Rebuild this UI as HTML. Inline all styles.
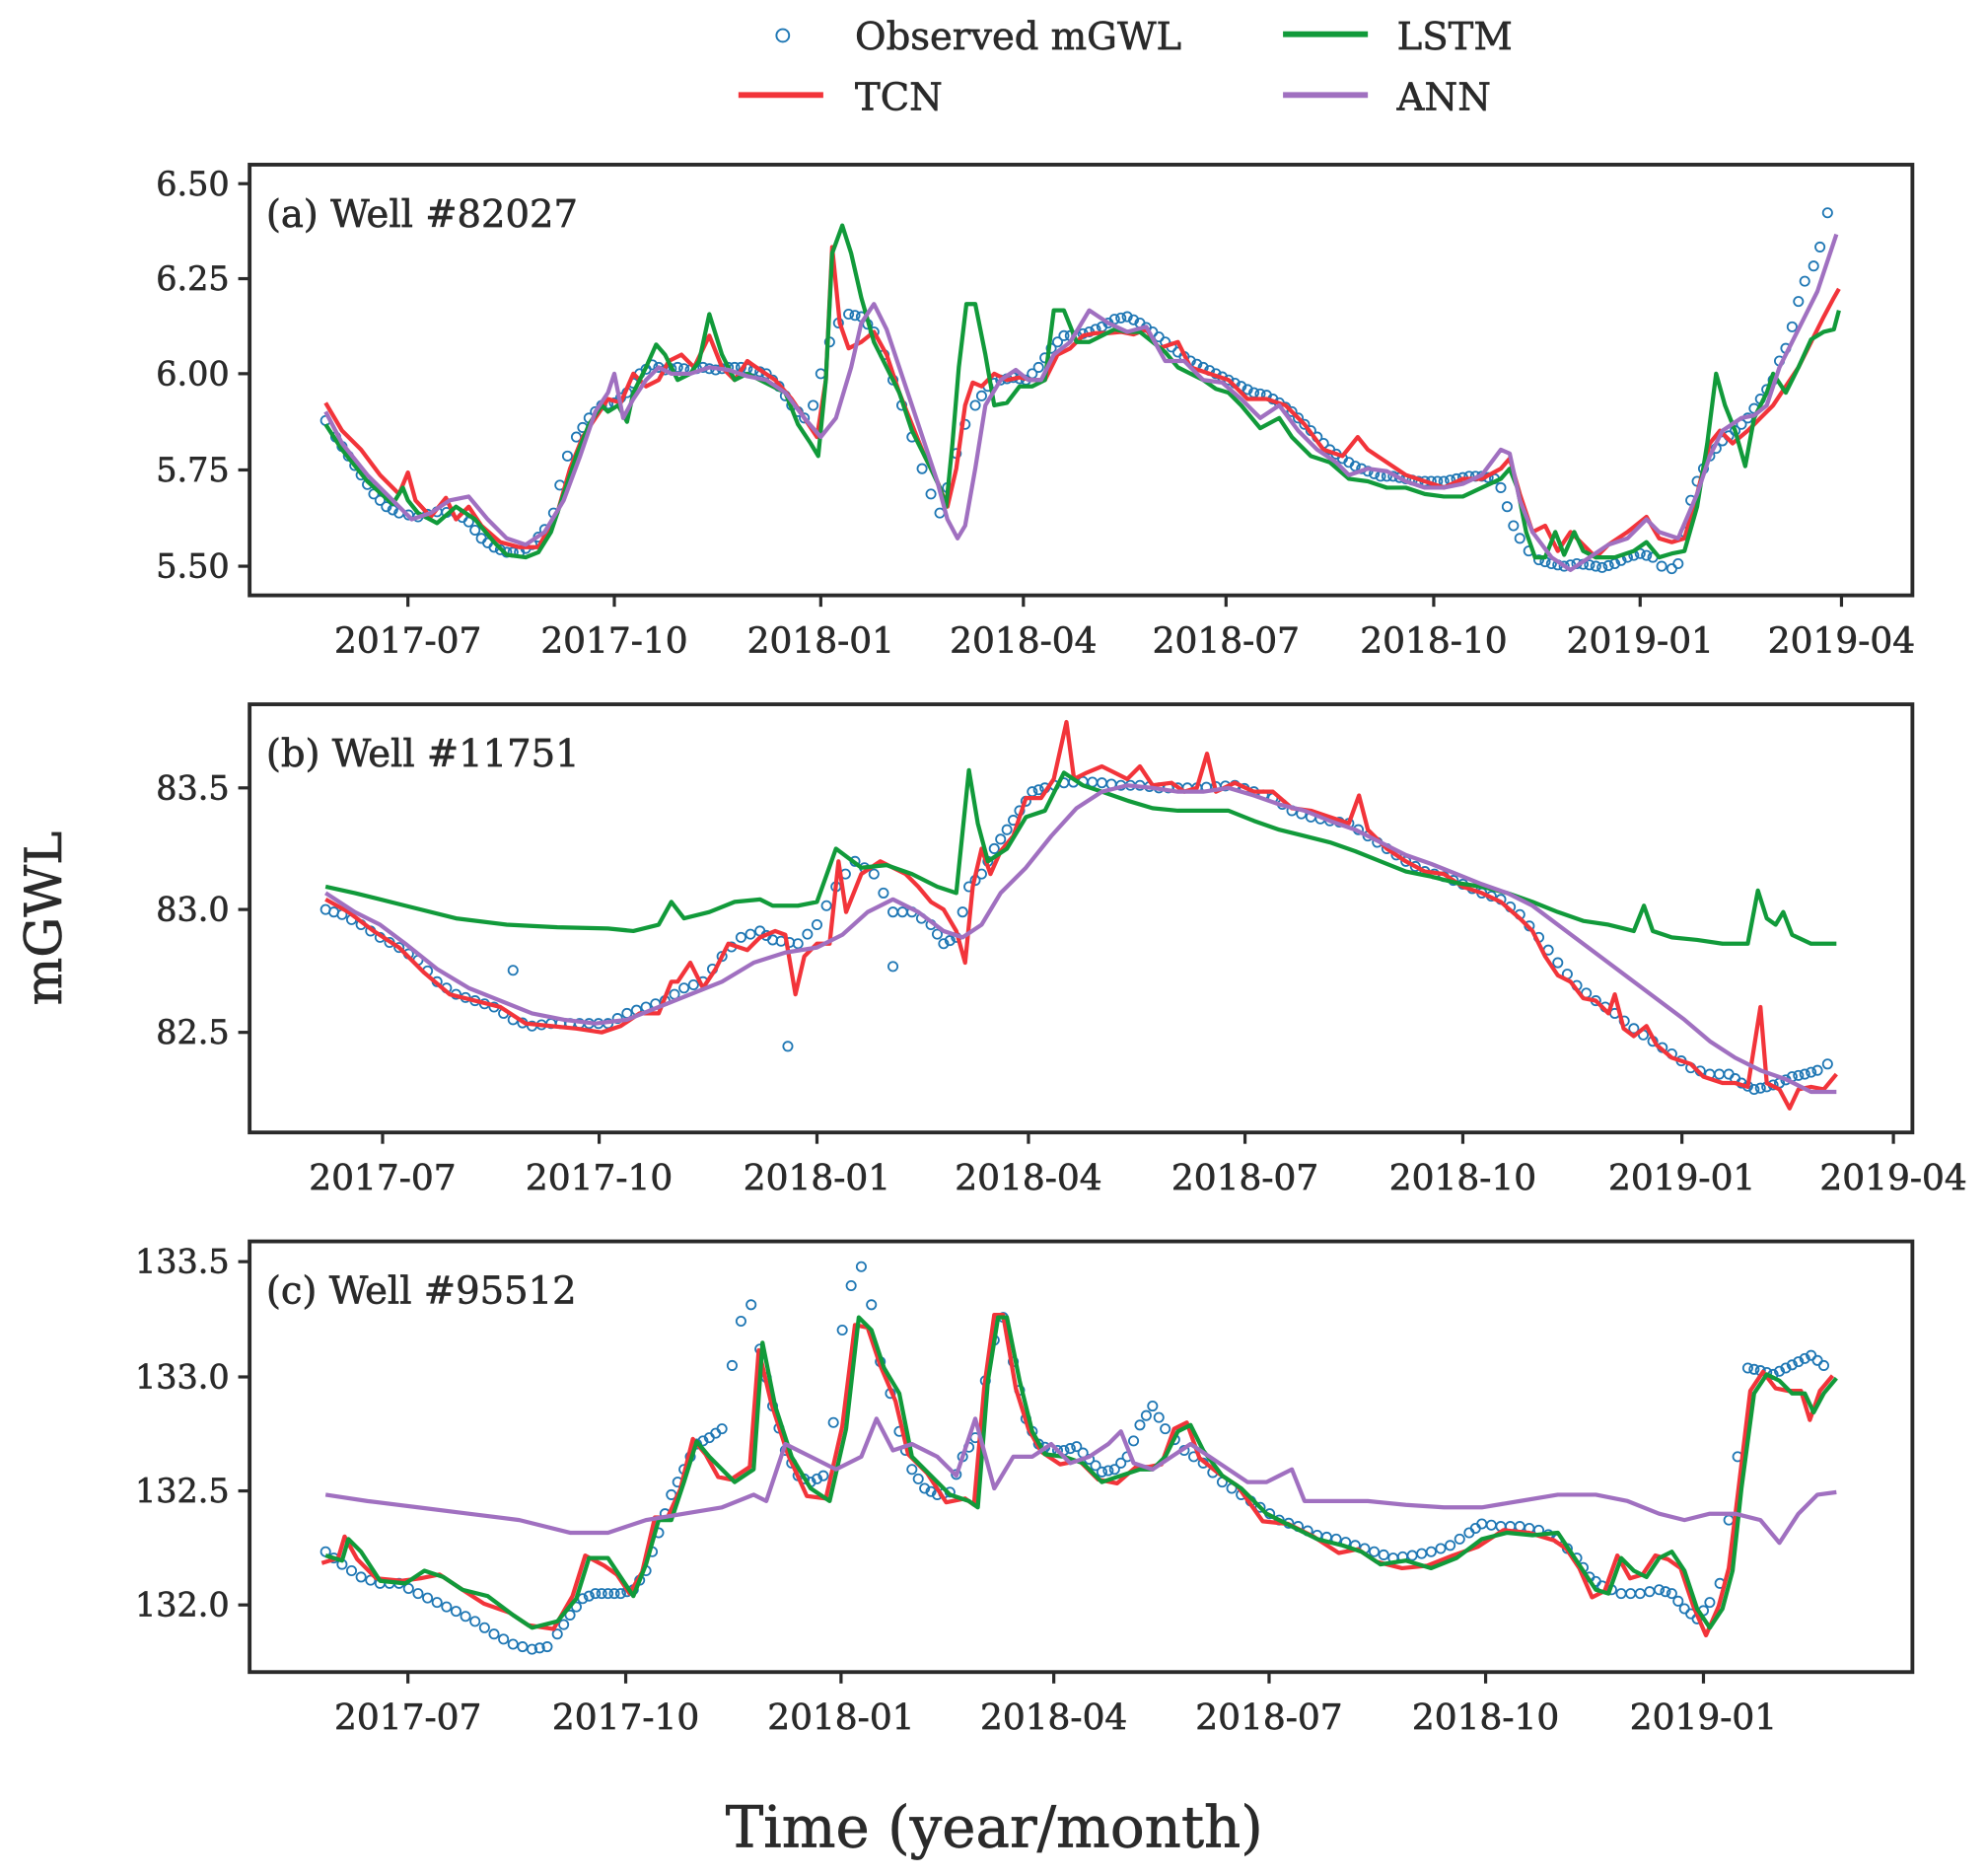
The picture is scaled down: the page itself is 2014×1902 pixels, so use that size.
<!DOCTYPE html>
<html><head><meta charset="utf-8"><style>
html,body{margin:0;padding:0;background:#fff}
svg{display:block}
text{font-family:"DejaVu Serif","Liberation Serif",serif;fill:#2a2a2a;stroke:#2a2a2a;stroke-width:0.5}
</style></head><body>
<svg id="s" width="2014" height="1902" viewBox="0 0 1568 1481" xmlns="http://www.w3.org/2000/svg">
<defs>
<clipPath id="ca"><rect x="197" y="130" width="1313" height="340"/></clipPath>
<clipPath id="cb"><rect x="197" y="556" width="1313" height="338"/></clipPath>
<clipPath id="cc"><rect x="197" y="980" width="1313" height="340"/></clipPath>
</defs>
<!-- legend -->
<circle cx="618" cy="28" r="5" fill="none" stroke="#1f77b4" stroke-width="1.5"/>
<text x="675" y="39" font-size="30">Observed mGWL</text>
<line x1="1013" y1="27" x2="1080" y2="27" stroke="#119a3a" stroke-width="4.5"/>
<text x="1103" y="39" font-size="30">LSTM</text>
<line x1="583" y1="75" x2="650" y2="75" stroke="#f2343a" stroke-width="4.5"/>
<text x="675" y="87" font-size="30">TCN</text>
<line x1="1013" y1="75" x2="1080" y2="75" stroke="#a070c0" stroke-width="4.5"/>
<text x="1103" y="87" font-size="30">ANN</text>
<text x="48" y="725" font-size="40" text-anchor="middle" transform="rotate(-90 48 725)">mGWL</text>
<text x="785" y="1458" font-size="45" text-anchor="middle">Time (year/month)</text>
<g id="g"></g>
</svg>
<script>
const NS="http://www.w3.org/2000/svg",G=document.getElementById('g');
function el(t,a,p){const e=document.createElementNS(NS,t);for(const k in a)e.setAttribute(k,a[k]);(p||G).appendChild(e);return e;}
function P(s){const n=s.match(/-?\d+(\.\d+)?/g).map(Number);const r=[];for(let i=0;i<n.length;i+=2)r.push([n[i],n[i+1]]);return r;}
function line(pts,col,clip){el('polyline',{points:pts.map(p=>p.join(',')).join(' '),fill:'none',stroke:col,'stroke-width':3.3,'stroke-linejoin':'round','clip-path':'url(#'+clip+')'});}
function obs(pts,clip,extra){const out=[];for(let i=0;i<pts.length-1;i++){const[a,b]=[pts[i],pts[i+1]];const n=Math.max(1,Math.round((b[0]-a[0])/6.5));for(let k=0;k<n;k++){const t=k/n;out.push([a[0]+(b[0]-a[0])*t,a[1]+(b[1]-a[1])*t]);}}out.push(pts[pts.length-1]);(extra||[]).forEach(p=>out.push(p));out.forEach(p=>el('circle',{cx:p[0],cy:p[1],r:3.6,fill:'none',stroke:'#1f77b4','stroke-width':1.4,'clip-path':'url(#'+clip+')'}));}
function axes(y0,y1,yt,xt,lab){el('rect',{x:197,y:y0,width:1313,height:y1-y0,fill:'none',stroke:'#2a2a2a','stroke-width':3});
yt.forEach(([v,y])=>{el('line',{x1:188,y1:y,x2:197,y2:y,stroke:'#2a2a2a','stroke-width':2.5});const t=el('text',{x:181,y:y+9,'font-size':26,'text-anchor':'end'});t.textContent=v;});
xt.forEach(([v,x])=>{el('line',{x1:x,y1:y1,x2:x,y2:y1+9,stroke:'#2a2a2a','stroke-width':2.5});const t=el('text',{x:x,y:y1+45,'font-size':28,'text-anchor':'middle'});t.textContent=v;});
const t=el('text',{x:210,y:y0+49,'font-size':30});t.textContent=lab;}
// panel a
axes(130,470,[['6.50',145],['6.25',220],['6.00',295],['5.75',371],['5.50',447]],[['2017-07',322],['2017-10',485],['2018-01',648],['2018-04',808],['2018-07',968],['2018-10',1132],['2019-01',1295],['2019-04',1454]],'(a) Well #82027');
obs(P("(257,332),(265,345),(275,360),(285,375),(295,390),(305,400),(315,405),(330,408),(345,404),(360,405),(370,412),(380,425),(390,432),(400,436),(410,436),(420,430),(430,418),(437,405),(442,383),(448,360),(455,345),(465,330),(475,320),(485,318),(495,310),(505,295),(515,288),(525,292),(535,290),(545,292),(555,290),(565,292),(575,290),(585,290),(595,292),(605,295),(615,305),(625,320),(635,330),(642,320),(648,295),(655,270),(662,255),(670,248),(680,250),(690,262),(698,280),(705,300),(712,320),(720,345),(728,370),(735,390),(742,405),(748,385),(755,358),(762,335),(770,320),(780,305),(790,300),(800,298),(810,300),(820,290),(830,275),(840,265),(850,265),(860,262),(870,258),(880,252),(890,250),(900,255),(910,262),(920,270),(930,278),(940,285),(950,290),(960,295),(970,300),(980,305),(990,310),(1000,312),(1010,318),(1020,325),(1030,335),(1040,345),(1050,355),(1060,362),(1070,368),(1080,372),(1090,376),(1100,376),(1110,378),(1120,380),(1130,380),(1140,380),(1150,378),(1160,376),(1170,376),(1180,378),(1185,385),(1190,400),(1195,415),(1200,425),(1207,435),(1215,442),(1225,445),(1235,447),(1245,445),(1255,446),(1265,448),(1275,445),(1285,440),(1295,437),(1305,440),(1312,447),(1320,449),(1325,445),(1330,420),(1335,395),(1340,380),(1350,360),(1360,348),(1370,340),(1380,330),(1390,315),(1400,300),(1405,285),(1410,275),(1415,258),(1420,238),(1425,222),(1432,210),(1437,195),(1443,168)"),'ca');
line(P("(257,318),(270,340),(285,355),(300,375),(315,390),(322,373),(328,395),(340,408),(352,393),(360,410),(370,400),(380,415),(395,428),(410,432),(425,432),(440,405),(450,370),(460,345),(470,330),(480,315),(490,318),(500,295),(510,305),(520,300),(528,285),(538,280),(548,290),(560,265),(570,290),(580,300),(590,285),(600,292),(612,300),(625,315),(635,330),(645,345),(652,300),(657,195),(663,255),(670,275),(680,270),(690,262),(700,280),(710,310),(720,335),(730,360),(740,380),(748,400),(755,370),(762,320),(768,302),(775,305),(785,295),(795,300),(805,298),(815,300),(825,300),(835,280),(845,275),(855,265),(865,263),(875,263),(885,262),(895,264),(905,260),(915,275),(930,270),(940,290),(955,295),(970,300),(985,315),(1000,315),(1015,320),(1030,335),(1045,355),(1060,360),(1072,345),(1080,355),(1095,365),(1110,375),(1125,380),(1140,385),(1155,378),(1170,378),(1185,370),(1192,362),(1200,390),(1210,420),(1220,415),(1230,435),(1240,420),(1250,430),(1260,440),(1270,430),(1285,420),(1300,408),(1310,425),(1320,428),(1330,425),(1340,390),(1350,350),(1358,340),(1368,350),(1380,340),(1390,330),(1400,320),(1410,305),(1420,290),(1430,270),(1440,250),(1448,235),(1452,228)"),'#f2343a','ca');
line(P("(257,335),(270,355),(290,380),(310,398),(318,385),(322,395),(330,405),(345,413),(360,400),(375,410),(390,428),(400,438),(415,440),(425,436),(435,420),(445,390),(455,360),(465,335),(475,320),(480,325),(488,320),(495,333),(500,310),(510,290),(518,272),(525,280),(535,300),(545,295),(552,285),(560,248),(570,280),(580,300),(590,295),(600,300),(610,305),(620,310),(630,335),(640,350),(646,360),(652,300),(657,200),(665,178),(672,200),(680,235),(690,270),(700,290),(710,310),(720,340),(735,370),(742,385),(747,400),(752,350),(757,290),(763,240),(770,240),(778,280),(785,320),(795,318),(805,305),(815,305),(825,300),(832,245),(840,245),(850,270),(860,270),(870,265),(880,260),(890,262),(900,262),(910,270),(920,278),(930,290),(940,295),(950,300),(960,307),(970,310),(980,320),(995,338),(1010,330),(1020,345),(1035,360),(1050,365),(1065,378),(1080,380),(1095,385),(1110,385),(1125,390),(1140,392),(1155,392),(1170,385),(1185,378),(1192,370),(1198,385),(1205,420),(1212,440),(1220,440),(1228,420),(1235,438),(1243,420),(1250,435),(1260,440),(1275,440),(1290,435),(1300,428),(1310,440),(1320,437),(1330,435),(1340,400),(1348,350),(1355,295),(1362,320),(1370,340),(1378,368),(1385,330),(1395,310),(1400,295),(1410,310),(1420,290),(1430,268),(1440,262),(1448,260),(1452,245)"),'#119a3a','ca');
line(P("(257,325),(270,350),(290,375),(310,395),(325,410),(340,405),(355,395),(370,392),(385,410),(400,425),(415,430),(430,420),(445,395),(458,360),(470,325),(480,310),(485,295),(492,330),(500,315),(510,300),(520,290),(530,295),(545,295),(560,290),(575,292),(590,297),(605,300),(620,310),(635,330),(648,345),(660,330),(672,290),(680,255),(690,240),(700,260),(710,290),(720,320),(730,350),(740,380),(748,410),(756,425),(762,415),(770,370),(778,320),(790,300),(802,292),(812,300),(822,300),(832,280),(845,270),(860,245),(875,255),(890,262),(905,258),(920,285),(935,285),(950,300),(965,302),(980,315),(995,330),(1010,320),(1025,340),(1040,355),(1055,365),(1065,375),(1080,370),(1095,372),(1110,380),(1125,385),(1140,385),(1155,382),(1170,375),(1185,355),(1192,358),(1200,395),(1210,420),(1225,440),(1240,450),(1255,440),(1270,430),(1285,425),(1300,410),(1310,420),(1325,425),(1340,390),(1350,360),(1360,340),(1375,330),(1385,328),(1395,320),(1405,290),(1415,270),(1425,250),(1435,230),(1445,200),(1450,185)"),'#a070c0','ca');
// panel b
axes(556,894,[['83.5',622],['83.0',718],['82.5',815]],[['2017-07',302],['2017-10',473],['2018-01',645],['2018-04',812],['2018-07',983],['2018-10',1155],['2019-01',1328],['2019-04',1495]],'(b) Well #11751');
obs(P("(257,718),(270,722),(285,730),(300,740),(315,748),(330,758),(345,775),(360,785),(375,790),(390,795),(405,805),(420,810),(435,808),(450,808),(465,808),(480,808),(495,800),(510,795),(525,790),(540,780),(555,775),(570,755),(585,740),(600,735),(610,742),(630,745),(645,730),(660,700),(675,680),(690,690),(705,720),(720,720),(735,730),(745,745),(755,740),(765,700),(775,690),(785,670),(795,655),(805,640),(815,625),(825,622),(840,618),(855,617),(870,618),(885,620),(900,620),(915,622),(930,622),(945,622),(960,621),(975,620),(990,625),(1005,630),(1020,640),(1035,645),(1050,648),(1065,650),(1080,660),(1095,670),(1110,680),(1125,688),(1140,692),(1155,698),(1170,705),(1185,710),(1200,722),(1215,740),(1230,760),(1245,778),(1260,790),(1275,800),(1290,812),(1305,822),(1320,832),(1335,843),(1350,848),(1365,848),(1375,855),(1385,860),(1395,858),(1405,855),(1415,850),(1425,848),(1435,845),(1443,840)"),'cb',[[405,766],[622,826],[705,763]]);
line(P("(257,710),(275,720),(295,735),(315,748),(335,768),(355,785),(375,790),(395,795),(415,808),(435,810),(455,812),(475,815),(490,810),(505,800),(520,800),(530,775),(535,775),(545,760),(555,780),(565,765),(575,745),(590,750),(600,740),(612,735),(620,738),(628,785),(635,755),(645,745),(655,745),(662,680),(668,720),(680,690),(695,680),(705,685),(715,690),(725,700),(735,712),(745,718),(755,735),(762,760),(768,700),(775,670),(782,690),(790,672),(800,660),(810,630),(822,630),(832,615),(842,570),(848,615),(858,610),(870,605),(880,610),(890,615),(900,605),(910,620),(925,618),(935,625),(945,622),(953,595),(960,625),(975,618),(990,625),(1005,625),(1020,638),(1035,640),(1050,645),(1065,650),(1073,628),(1080,655),(1095,670),(1110,680),(1125,688),(1140,690),(1155,700),(1170,705),(1185,712),(1200,725),(1210,735),(1220,755),(1230,770),(1240,775),(1250,788),(1260,790),(1270,800),(1275,785),(1282,812),(1290,818),(1300,810),(1308,825),(1320,835),(1335,840),(1345,850),(1360,855),(1370,855),(1380,858),(1390,795),(1395,855),(1405,860),(1413,875),(1420,860),(1430,858),(1440,860),(1450,848)"),'#f2343a','cb');
line(P("(257,700),(280,705),(320,715),(360,725),(400,730),(440,732),(480,733),(500,735),(520,730),(530,712),(540,725),(560,720),(580,712),(600,710),(610,715),(630,715),(645,712),(660,670),(680,685),(700,683),(720,690),(740,700),(755,705),(765,608),(772,650),(780,680),(795,670),(810,645),(825,640),(840,610),(855,620),(870,625),(890,632),(910,638),(930,640),(950,640),(970,640),(990,648),(1010,655),(1030,660),(1050,665),(1070,672),(1090,680),(1110,688),(1130,692),(1150,697),(1170,700),(1190,705),(1210,712),(1230,720),(1250,727),(1270,730),(1290,735),(1298,715),(1305,735),(1320,740),(1340,742),(1360,745),(1380,745),(1388,703),(1395,725),(1402,730),(1408,720),(1415,738),(1430,745),(1450,745)"),'#119a3a','cb');
line(P("(257,705),(280,720),(300,730),(320,745),(345,765),(370,780),(395,790),(420,800),(445,805),(470,808),(495,805),(520,795),(545,785),(570,775),(595,760),(620,752),(645,748),(665,738),(685,720),(705,710),(725,720),(745,735),(760,740),(775,730),(790,705),(810,685),(830,660),(850,638),(870,625),(890,620),(910,622),(930,625),(950,625),(970,622),(990,628),(1010,635),(1030,640),(1050,648),(1070,655),(1090,665),(1110,675),(1130,682),(1150,690),(1170,698),(1190,705),(1210,715),(1230,730),(1250,745),(1270,760),(1290,775),(1310,790),(1330,805),(1350,822),(1370,835),(1390,845),(1410,852),(1430,862),(1450,862)"),'#a070c0','cb');
// panel c
axes(980,1320,[['133.5',996],['133.0',1087],['132.5',1177],['132.0',1267]],[['2017-07',322],['2017-10',494],['2018-01',664],['2018-04',832],['2018-07',1002],['2018-10',1173],['2019-01',1345]],'(c) Well #95512');
obs(P("(257,1225),(270,1235),(285,1245),(300,1250),(315,1250),(330,1258),(345,1265),(360,1272),(375,1280),(390,1290),(405,1298),(420,1302),(432,1300),(440,1290),(450,1275),(460,1262),(470,1258),(480,1258),(490,1258),(500,1255),(510,1240),(520,1210),(530,1180),(540,1160),(550,1140),(560,1135),(570,1128),(578,1078),(585,1043),(593,1030),(600,1065),(610,1110),(620,1145),(630,1165),(640,1170),(650,1165),(658,1123),(665,1050),(672,1015),(680,1000),(688,1030),(695,1075),(703,1100),(710,1130),(720,1160),(730,1175),(740,1180),(750,1178),(760,1150),(770,1135),(778,1090),(785,1058),(792,1040),(800,1075),(810,1120),(820,1140),(830,1145),(840,1145),(850,1142),(860,1152),(870,1162),(880,1160),(890,1150),(900,1125),(910,1110),(920,1128),(935,1145),(950,1155),(965,1170),(980,1180),(995,1190),(1010,1200),(1025,1205),(1040,1212),(1055,1215),(1070,1220),(1085,1225),(1100,1230),(1115,1228),(1130,1225),(1145,1220),(1160,1210),(1170,1203),(1185,1205),(1200,1205),(1215,1208),(1230,1215),(1245,1230),(1255,1245),(1265,1252),(1280,1258),(1295,1258),(1310,1255),(1320,1258),(1330,1270),(1340,1278),(1350,1265),(1358,1250),(1365,1200),(1372,1150),(1380,1080),(1390,1082),(1400,1085),(1410,1080),(1420,1075),(1430,1070),(1440,1078)"),'cc');
const gc=P("(257,1228),(270,1232),(275,1215),(285,1225),(300,1248),(320,1250),(335,1240),(350,1245),(365,1255),(385,1260),(405,1275),(420,1285),(440,1280),(455,1262),(465,1230),(480,1230),(490,1245),(500,1260),(510,1235),(520,1200),(530,1200),(540,1170),(550,1138),(560,1150),(570,1160),(580,1170),(595,1160),(602,1060),(612,1110),(625,1150),(640,1175),(655,1185),(668,1128),(678,1040),(688,1050),(698,1080),(710,1100),(720,1150),(735,1165),(750,1180),(765,1185),(772,1190),(780,1090),(788,1040),(795,1040),(805,1090),(815,1130),(825,1148),(840,1150),(855,1155),(870,1170),(885,1165),(900,1160),(910,1160),(920,1150),(930,1130),(940,1125),(950,1145),(965,1165),(980,1175),(1000,1195),(1020,1205),(1040,1215),(1060,1220),(1075,1225),(1090,1235),(1110,1232),(1130,1238),(1150,1230),(1170,1215),(1190,1210),(1210,1212),(1230,1210),(1240,1225),(1250,1240),(1260,1255),(1270,1258),(1280,1230),(1290,1240),(1300,1245),(1310,1230),(1320,1225),(1330,1240),(1340,1270),(1350,1285),(1360,1270),(1368,1240),(1375,1175),(1385,1100),(1395,1085),(1405,1090),(1415,1100),(1425,1100),(1432,1115),(1440,1100),(1450,1088)");
line(gc.map((p,i)=>[p[0]-3,p[1]+(i%3==0?6:-2)]),'#f2343a','cc');
line(gc,'#119a3a','cc');
line(P("(257,1180),(290,1185),(330,1190),(370,1195),(410,1200),(450,1210),(480,1210),(510,1200),(540,1195),(570,1190),(595,1180),(605,1185),(620,1140),(640,1150),(660,1160),(680,1150),(692,1120),(705,1145),(720,1140),(740,1150),(755,1165),(770,1120),(785,1175),(800,1150),(815,1150),(830,1140),(845,1155),(860,1150),(875,1140),(885,1130),(895,1155),(910,1160),(925,1150),(940,1140),(955,1150),(970,1160),(985,1170),(1000,1170),(1010,1165),(1020,1160),(1030,1185),(1050,1185),(1080,1185),(1110,1188),(1140,1190),(1170,1190),(1200,1185),(1230,1180),(1260,1180),(1285,1185),(1310,1195),(1330,1200),(1350,1195),(1370,1195),(1390,1200),(1405,1218),(1420,1195),(1435,1180),(1450,1178)"),'#a070c0','cc');
</script>
</body></html>
